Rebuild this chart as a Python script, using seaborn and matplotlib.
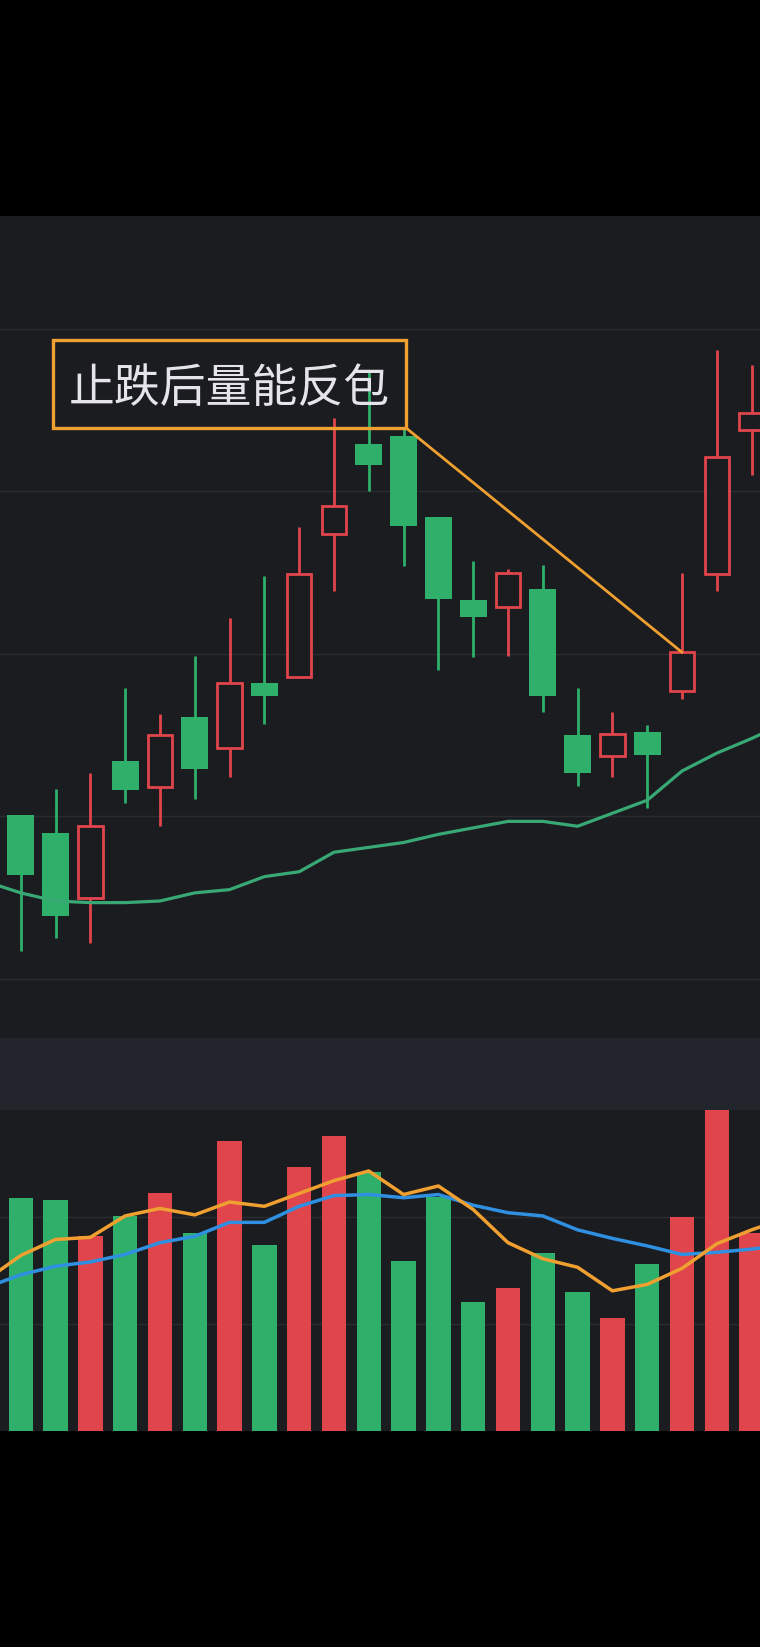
import numpy as np
import pandas as pd
import matplotlib
matplotlib.use("Agg")
import matplotlib.pyplot as plt
from matplotlib.patches import Rectangle
import seaborn as sns

# ---------------- data ----------------
idx = list(range(22))
opens  = [11.01, 10.90, 10.50, 11.34, 11.18, 11.61, 11.42, 11.82, 11.86, 12.74, 13.29,
          13.34, 12.84, 12.33, 12.29, 12.40, 11.50, 11.37, 11.52, 11.77, 12.49, 13.38]
closes = [10.64, 10.39, 10.94, 11.16, 11.50, 11.29, 11.82, 11.74, 12.49, 12.91, 13.16,
          12.79, 12.34, 12.23, 12.50, 11.74, 11.27, 11.51, 11.38, 12.01, 13.21, 13.48]
highs  = [11.01, 11.17, 11.27, 11.79, 11.63, 11.99, 12.22, 12.48, 12.78, 13.45, 13.75,
          13.39, 12.84, 12.57, 12.52, 12.55, 11.79, 11.64, 11.56, 12.50, 13.87, 13.78]
lows   = [10.17, 10.25, 10.22, 11.08, 10.94, 11.11, 11.24, 11.57, 11.86, 12.39, 13.00,
          12.54, 11.90, 11.98, 11.99, 11.64, 11.19, 11.24, 11.05, 11.72, 12.39, 13.10]

ma_idx = list(range(-1, 23))
price_ma = [10.60, 10.53, 10.48, 10.47, 10.47, 10.48, 10.53, 10.55, 10.63, 10.66, 10.78, 10.81,
            10.84, 10.89, 10.93, 10.97, 10.97, 10.94, 11.02, 11.10, 11.28, 11.39, 11.48, 11.58]

volume = [2.18, 2.16, 1.82, 2.01, 2.22, 1.85, 2.71, 1.74, 2.47, 2.76, 2.42,
          1.59, 2.19, 1.21, 1.34, 1.66, 1.30, 1.06, 1.56, 2.00, 3.01, 1.85]
vol_ma5 = [1.41, 1.64, 1.79, 1.81, 2.01, 2.08, 2.02, 2.14, 2.10, 2.22, 2.34, 2.43,
           2.21, 2.29, 2.07, 1.76, 1.61, 1.53, 1.31, 1.37, 1.52, 1.75, 1.88, 1.99]
vol_ma10 = [1.34, 1.46, 1.54, 1.58, 1.65, 1.76, 1.82, 1.95, 1.95, 2.10, 2.20, 2.21,
            2.18, 2.21, 2.11, 2.04, 2.01, 1.88, 1.80, 1.73, 1.65, 1.67, 1.70, 1.74]

label_text = "止跌后量能反包"
label_target = 19  # candle the callout line points to

# ---------------- style ----------------
BG = "#1b1c20"
BAND = "#22252c"
GRID = "#2a2c31"
GREEN = "#2eb06b"
RED = "#e0454b"
MA_GREEN = "#38a874"
ORANGE = "#f0a030"
BLUE = "#2f8fe0"
TEXT = "#e4e4ea"

sns.set_theme(style="dark")
plt.rcParams["font.family"] = ["Noto Sans CJK SC", "DejaVu Sans"]

fig = plt.figure(figsize=(7.6, 16.47), dpi=100, facecolor="black")
H = 1647.0

def pos(top_px, bot_px):
    return [0.0, 1 - bot_px / H, 1.0, (bot_px - top_px) / H]

ax = fig.add_axes(pos(216, 1038))
band = fig.add_axes(pos(1038, 1110))
axv = fig.add_axes(pos(1110, 1431))

XL = (-0.595, 21.24)

for a in (ax, band, axv):
    a.set_facecolor(BG)
    for s in a.spines.values():
        s.set_visible(False)
    a.tick_params(left=False, bottom=False, labelleft=False, labelbottom=False)
    a.set_xlim(*XL)
band.set_facecolor(BAND)
band.set_xticks([]); band.set_yticks([])

# ---------------- price panel ----------------
ax.set_ylim(9.637, 14.695)
ax.set_yticks([10, 11, 12, 13, 14])
ax.set_xticks([])
ax.grid(axis="y", color=GRID, lw=1.0)
ax.grid(axis="x", visible=False)

df = pd.DataFrame({"i": idx, "o": opens, "c": closes, "h": highs, "l": lows})
df["up"] = df["c"] >= df["o"]

for _, r in df.iterrows():
    col = RED if r["up"] else GREEN
    ax.vlines(r["i"], r["l"], r["h"], color=col, lw=2.0, zorder=2)
    lo, hi = min(r["o"], r["c"]), max(r["o"], r["c"])
    if r["up"]:
        ax.bar(r["i"], hi - lo, bottom=lo, width=0.70, facecolor=BG,
               edgecolor=col, linewidth=2.0, zorder=3)
    else:
        ax.bar(r["i"], hi - lo, bottom=lo, width=0.78, facecolor=col,
               edgecolor=col, linewidth=0, zorder=3)

sns.lineplot(x=ma_idx, y=price_ma, ax=ax, color=MA_GREEN, lw=2.3,
             estimator=None, sort=False, zorder=4)

# callout box, text, and connector line
box_x0, box_x1 = 0.928, 11.07
box_y0, box_y1 = 13.391, 13.932
ax.add_patch(Rectangle((box_x0, box_y0), box_x1 - box_x0, box_y1 - box_y0,
                       fill=False, edgecolor=ORANGE, lw=2.4, zorder=5))
ax.text((box_x0 + box_x1) / 2, 13.635, label_text, color=TEXT, fontsize=33,
        ha="center", va="center", zorder=6)
ax.plot([box_x1, label_target], [box_y0, closes[label_target]],
        color=ORANGE, lw=2.0, zorder=5)
ax.set_xlim(*XL)

# ---------------- volume panel ----------------
vdf = pd.DataFrame({"i": idx, "vol": volume,
                    "dir": np.where(df["up"], "up", "down")})
sns.barplot(data=vdf, x="i", y="vol", hue="dir", palette={"up": RED, "down": GREEN},
            dodge=False, native_scale=True, width=0.70, errorbar=None, legend=False,
            saturation=1, linewidth=0, ax=axv, zorder=2)
sns.lineplot(x=ma_idx, y=vol_ma10, ax=axv, color=BLUE, lw=2.5,
             estimator=None, sort=False, zorder=4)
sns.lineplot(x=ma_idx, y=vol_ma5, ax=axv, color=ORANGE, lw=2.5,
             estimator=None, sort=False, zorder=5)
axv.set_ylim(0, 3.0)
axv.set_yticks([1, 2])
axv.set_xticks([])
axv.grid(axis="y", color=GRID, lw=1.0)
axv.grid(axis="x", visible=False)
axv.set_xlabel(""); axv.set_ylabel("")
axv.set_xlim(*XL)
for s in axv.spines.values():
    s.set_visible(False)
axv.tick_params(left=False, bottom=False, labelleft=False, labelbottom=False)

fig.savefig("out.png", dpi=100, facecolor="black")
